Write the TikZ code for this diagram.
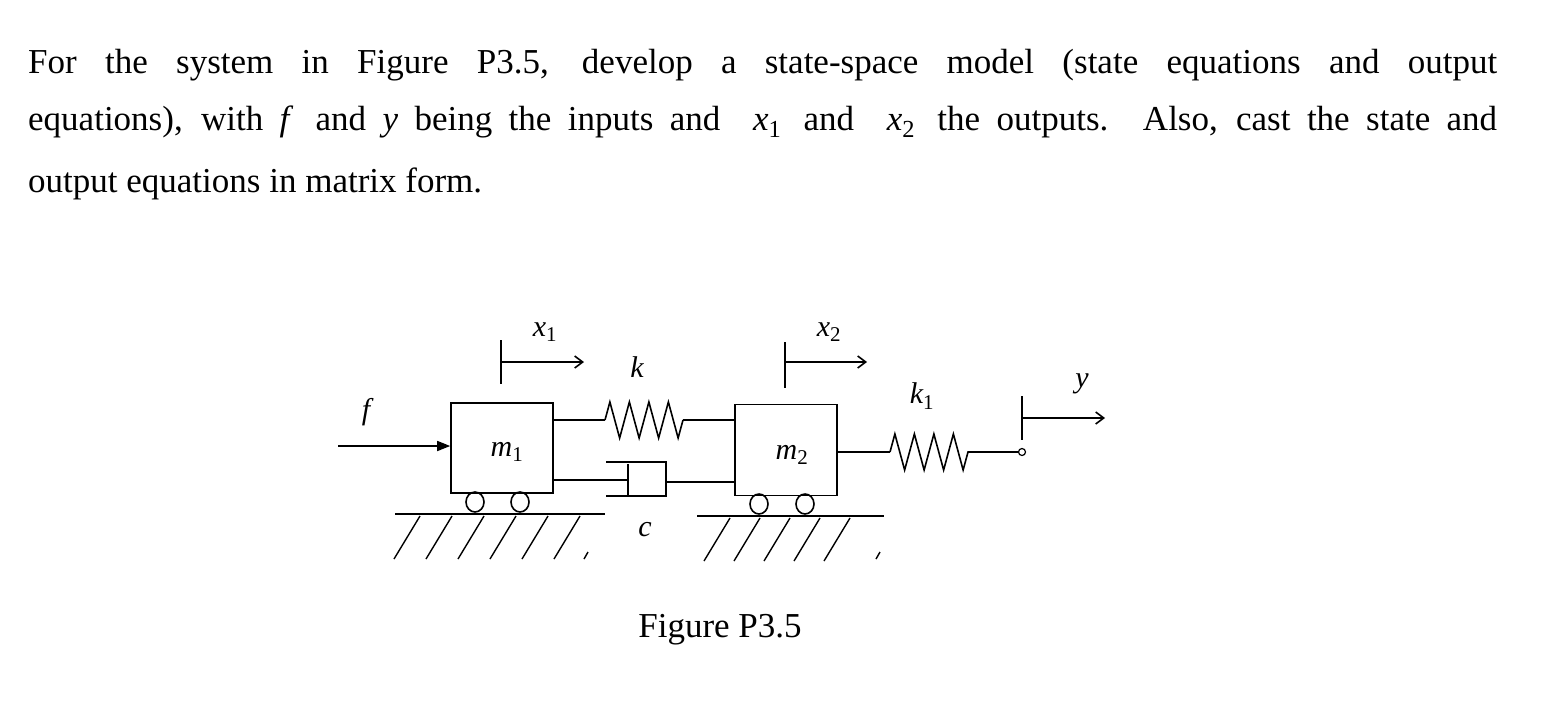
\documentclass[tikz,border=0pt]{standalone}
\usepackage{fontspec}
\setmainfont{Liberation Serif}
\usetikzlibrary{arrows.meta,decorations.pathmorphing}
\begin{document}
\begin{tikzpicture}[x=1pt,y=-1pt,
  txt/.style={anchor=base west,inner sep=0pt,font=\fontsize{35}{40}\selectfont},
  lab/.style={inner sep=0pt,font=\fontsize{30}{34}\selectfont\itshape},
  ln/.style={line width=1.6pt},
  arr/.style={ln,-{Straight Barb[length=8pt,width=12pt,line width=1.6pt]}},
  spr/.style={ln,decorate,decoration={zigzag,segment length=19.5pt,amplitude=18pt,pre length=0pt,post length=0pt}},
  hatch/.style={line width=1.4pt}]
\useasboundingbox (0,0) rectangle (1549,721);
\newcommand\sub[1]{\textsubscript{\upshape #1}}
\node[txt] (l1) at (28,73) {\hbox to 1469pt{For the system in Figure P3.5, develop a state-space model (state equations and output}};
\node[txt] (l2) at (28,130) {\hbox to 1469pt{equations), with \textit{f}\, and \textit{y} being the inputs and \ \textit{x}\sub{1}\, and \ \textit{x}\sub{2}\, the outputs. Also, cast the state and}};
\node[txt] (l3) at (28,192) {output equations in matrix form.};
% masses
\node[draw,ln,minimum width=102pt,minimum height=90pt,inner sep=0pt] (m1) at (502,448) {};
\node[draw,ln,minimum width=102pt,minimum height=91pt,inner sep=0pt] (m2) at (786,450) {};
\node[lab] at (507,452) {m\sub{1}};
\node[lab] at (792,455) {m\sub{2}};
% wheels
\foreach \x/\y in {475/502,520/502,759/504,805/504}
  \draw[ln] (\x,\y) ellipse (9pt and 10pt);
% grounds
\draw[ln] (395,514) -- (605,514);
\foreach \x in {420,452,484,516,548,580} \draw[hatch] (\x,516) -- ++(-26,43);
\draw[hatch] (588,552) -- ++(-4,7);
\draw[ln] (697,516) -- (884,516);
\foreach \x in {730,760,790,820,850} \draw[hatch] (\x,518) -- ++(-26,43);
\draw[hatch] (880,552) -- ++(-4,7);
% force
\coordinate (fs) at (338,446);
\draw[ln,-{Triangle[length=13pt,width=10pt]}] (fs) -- (m1.west |- fs);
\node[lab] at (366,412) {f};
% spring k
\coordinate (ka) at (553,420); \coordinate (kb) at (605,420);
\coordinate (kc) at (683,420); \coordinate (kd) at (735,420);
\draw[ln] (ka) -- (kb); \draw[spr] (kb) -- (kc); \draw[ln] (kc) -- (kd);
\node[lab] at (637,367) {k};
% damper
\coordinate (da) at (553,480); \coordinate (db) at (628,480);
\draw[ln] (da) -- (db);
\draw[ln] (628,464) -- (628,497);
\draw[ln] (606,462) -- (666,462) -- (666,496) -- (606,496);
\draw[ln] (666,482) -- (735,482);
\node[lab] at (645,530) {c};
% spring k1
\coordinate (pa) at (838,452); \coordinate (pb) at (890,452);
\coordinate (pc) at (970,452); \coordinate (pd) at (1018,452);
\draw[ln] (pa) -- (pb); \draw[spr] (pb) -- (pc); \draw[ln] (pc) -- (pd);
\node[draw,circle,line width=1.2pt,minimum size=7pt,inner sep=0pt] (yc) at (1022,452) {};
\node[lab] at (922,396) {k\sub{1}};
% displacement markers
\draw[ln] (501,340) -- (501,384);
\draw[arr] (501,362) -- (584,362);
\node[lab] at (545,332) {x\sub{1}};
\draw[ln] (785,342) -- (785,388);
\draw[arr] (785,362) -- (867,362);
\node[lab] at (829,332) {x\sub{2}};
\draw[ln] (1022,396) -- (1022,440);
\draw[arr] (1022,418) -- (1105,418);
\node[lab] at (1082,384) {y};
\node[inner sep=0pt,font=\fontsize{35}{40}\selectfont] (cap) at (720,630) {Figure P3.5};
\end{tikzpicture}
\end{document}
